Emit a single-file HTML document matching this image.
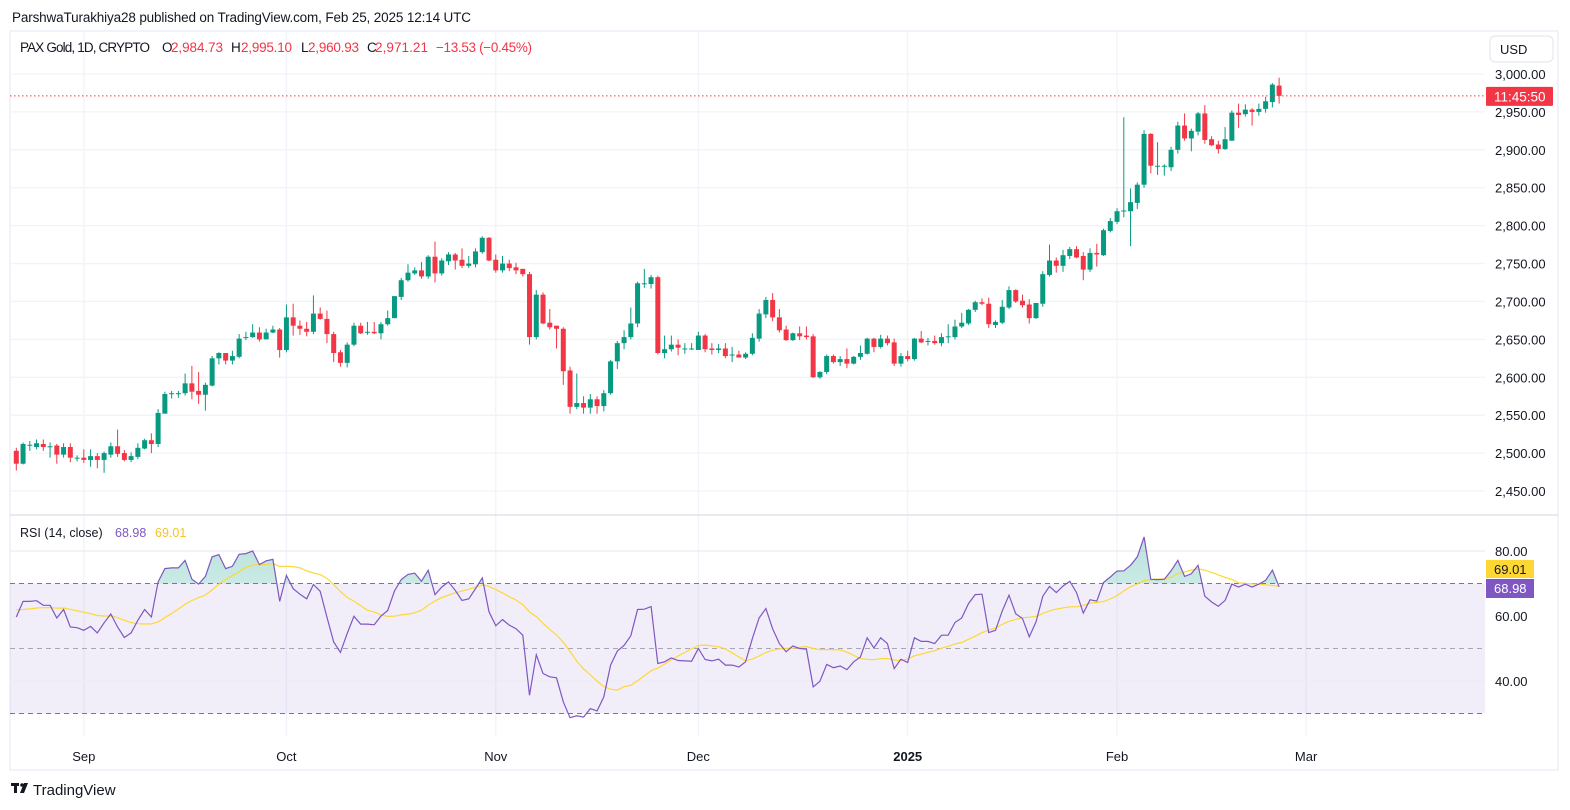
<!DOCTYPE html>
<html><head><meta charset="utf-8"><style>
html,body{margin:0;padding:0;background:#fff;}
svg{display:block;font-family:"Liberation Sans",Arial,sans-serif;}
</style></head><body>
<svg id="chart" width="1570" height="810" viewBox="0 0 1570 810" xmlns="http://www.w3.org/2000/svg">
<defs>
<linearGradient id="obg" x1="0" y1="0" x2="0" y2="1"><stop offset="0" stop-color="#089981" stop-opacity="0.28"/><stop offset="1" stop-color="#089981" stop-opacity="0.02"/></linearGradient>
<clipPath id="above70"><rect x="10" y="520" width="1475" height="63.5"/></clipPath>
</defs>
<text x="12" y="22" font-size="13.5" fill="#131722" textLength="459">ParshwaTurakhiya28 published on TradingView.com, Feb 25, 2025 12:14 UTC</text>
<rect x="10" y="31" width="1548" height="739" fill="none" stroke="#f0f3fa" stroke-width="2"/>
<g id="grid"></g>
<line x1="10" y1="515" x2="1558" y2="515" stroke="#e0e3eb" stroke-width="1.5"/>
<g id="rsiBand"></g>
<g id="candles"></g>
<g id="rsiG"></g>
<g id="axes"></g>
<g font-size="13.5">
<text x="20" y="52" fill="#131722" textLength="130">PAX Gold, 1D, CRYPTO</text>
<text x="162" y="52" fill="#131722">O</text><text x="171" y="52" fill="#f23645" textLength="52">2,984.73</text>
<text x="231" y="52" fill="#131722">H</text><text x="241" y="52" fill="#f23645" textLength="51">2,995.10</text>
<text x="301" y="52" fill="#131722">L</text><text x="308" y="52" fill="#f23645" textLength="51">2,960.93</text>
<text x="367" y="52" fill="#131722">C</text><text x="375" y="52" fill="#f23645" textLength="53">2,971.21</text>
<text x="436" y="52" fill="#f23645" textLength="96">−13.53 (−0.45%)</text>
</g>
<g font-size="12.5">
<text x="20" y="537" fill="#131722">RSI (14, close)</text>
<text x="115" y="537" fill="#7e57c2">68.98</text>
<text x="155" y="537" fill="#f7c325">69.01</text>
</g>
<rect x="1490" y="36" width="63" height="26" rx="5" fill="#fff" stroke="#e0e3eb"/>
<text x="1500" y="54" font-size="13" fill="#131722">USD</text>
<g>
<rect x="11" y="783" width="8" height="3" fill="#131722"/><rect x="14" y="783" width="3" height="10" fill="#131722"/>
<circle cx="22" cy="785" r="1.8" fill="#131722"/><path d="M24 783 L28 783 L24 793 L20 793 Z" fill="#131722"/>
<text x="33" y="795" font-size="15" fill="#131722">TradingView</text>
</g>
</svg>
<script>
const opens=[2503,2486,2511,2508,2512,2509,2510,2498,2508,2494,2494,2491,2496,2491,2498,2509,2500,2491,2495,2506,2517,2512,2552,2579,2579,2579,2592,2582,2577,2589,2625,2632,2622,2627,2653,2653,2659,2650,2659,2663,2636,2679,2668,2664,2660,2684,2677,2657,2633,2619,2643,2668,2660,2660,2658,2670,2678,2706,2728,2737,2741,2733,2759,2737,2753,2762,2755,2747,2749,2765,2784,2755,2741,2750,2745,2743,2736,2653,2709,2672,2668,2664,2609,2561,2566,2560,2571,2562,2579,2621,2645,2653,2671,2724,2723,2732,2632,2637,2643,2638,2638,2636,2655,2638,2636,2638,2630,2630,2626,2631,2651,2683,2702,2679,2663,2649,2658,2655,2654,2600,2607,2628,2620,2624,2618,2627,2631,2651,2640,2651,2646,2618,2628,2624,2651,2648,2648,2645,2654,2653,2667,2671,2689,2699,2697,2669,2672,2692,2715,2701,2696,2678,2697,2735,2754,2747,2760,2769,2760,2742,2764,2761,2793,2805,2820,2819,2830,2854,2921,2879,2879,2877,2900,2932,2915,2924,2948,2914,2907,2901,2912,2949,2947,2953,2950,2954,2963,2984.73];
const closes=[2486,2512,2511,2513,2508,2509,2498,2508,2494,2494,2491,2496,2491,2500,2509,2499,2491,2496,2507,2517,2512,2553,2578,2579,2579,2592,2581,2577,2590,2625,2632,2622,2628,2651,2653,2659,2650,2659,2663,2636,2679,2668,2664,2660,2684,2677,2657,2632,2619,2643,2668,2658,2660,2658,2670,2678,2707,2728,2738,2741,2733,2759,2737,2754,2762,2754,2747,2750,2766,2784,2754,2741,2750,2744,2741,2736,2653,2709,2671,2666,2664,2608,2561,2566,2560,2571,2562,2579,2621,2645,2653,2671,2724,2724,2732,2632,2637,2643,2639,2638,2638,2655,2637,2636,2638,2628,2630,2626,2631,2652,2684,2702,2679,2662,2649,2658,2654,2653,2600,2607,2628,2620,2624,2618,2627,2632,2651,2640,2651,2645,2618,2628,2624,2651,2646,2648,2645,2653,2654,2667,2672,2689,2699,2697,2670,2673,2693,2715,2700,2695,2678,2698,2736,2754,2747,2761,2769,2758,2742,2764,2762,2794,2806,2819,2820,2831,2854,2921,2879,2879,2879,2900,2932,2915,2925,2948,2913,2906,2901,2914,2949,2946,2953,2950,2954,2964,2986,2971.21];
const highs=[2507,2514,2516,2518,2518,2514,2512,2513,2513,2497,2505,2505,2500,2502,2514,2531,2504,2501,2513,2519,2526,2558,2581,2582,2582,2605,2615,2607,2593,2628,2633,2632,2635,2657,2660,2670,2666,2664,2668,2665,2696,2697,2675,2673,2708,2692,2688,2660,2636,2646,2672,2672,2673,2673,2673,2688,2707,2731,2749,2745,2752,2761,2779,2757,2765,2764,2770,2760,2770,2786,2785,2762,2760,2755,2751,2743,2739,2715,2712,2690,2668,2666,2614,2605,2575,2578,2575,2583,2623,2648,2662,2692,2726,2743,2735,2734,2655,2655,2650,2645,2645,2660,2657,2645,2644,2645,2640,2635,2633,2658,2690,2706,2711,2690,2668,2659,2667,2667,2657,2608,2630,2630,2628,2638,2628,2642,2652,2652,2656,2655,2651,2632,2635,2652,2661,2652,2655,2658,2670,2676,2685,2690,2701,2704,2705,2675,2702,2720,2716,2709,2703,2698,2740,2775,2758,2768,2772,2773,2765,2770,2776,2796,2810,2823,2943,2849,2857,2926,2922,2910,2881,2904,2937,2948,2928,2950,2959,2918,2912,2930,2952,2961,2960,2955,2961,2970,2988,2995.1];
const lows=[2477,2485,2503,2505,2503,2494,2486,2494,2488,2489,2487,2482,2480,2474,2494,2495,2489,2488,2492,2505,2500,2508,2564,2572,2573,2576,2571,2565,2556,2588,2617,2617,2617,2625,2649,2652,2647,2655,2658,2626,2633,2655,2656,2654,2657,2676,2645,2620,2614,2613,2641,2657,2656,2657,2650,2668,2678,2702,2726,2735,2730,2730,2725,2734,2748,2742,2744,2744,2745,2763,2753,2738,2738,2740,2736,2733,2643,2650,2670,2663,2638,2590,2552,2558,2552,2552,2552,2555,2577,2611,2637,2650,2666,2718,2717,2630,2625,2634,2629,2631,2636,2636,2633,2630,2632,2625,2620,2627,2624,2629,2647,2678,2674,2659,2648,2648,2649,2650,2599,2598,2604,2618,2615,2612,2617,2623,2630,2633,2638,2642,2615,2614,2621,2622,2645,2642,2643,2641,2645,2650,2665,2669,2686,2695,2665,2665,2670,2690,2698,2692,2671,2677,2693,2733,2738,2739,2756,2757,2728,2739,2746,2760,2791,2802,2811,2773,2822,2850,2869,2867,2866,2872,2895,2912,2898,2919,2908,2905,2895,2900,2912,2929,2944,2932,2945,2949,2956,2960.93];
const rsi=[59.7,64.5,64.5,64.7,63.3,63.3,59.4,62,56.6,56.4,55.6,56.8,54.8,57.9,60.6,56.6,53.4,54.8,58.7,62,59.7,70.5,74.6,74.8,74.8,77.1,71.3,69.8,72.2,78.2,78.9,74.6,75.3,79,79.2,80,75.8,77,77.4,64.5,72.5,68.4,66.7,65.3,69.7,67.6,59.7,52,48.8,54.6,59.9,57.5,57.5,57.3,60,61.7,67.7,71.2,72.8,73.2,70.7,74.1,66.6,68.9,70.5,67.9,64.8,65.3,68.4,71.7,61.3,57,58.9,57.2,56.1,54.1,35.6,48.1,42.3,41.3,41,33.6,28.7,29.3,28.9,31.5,30.8,35.1,44.9,49.2,51,53.9,62,62.1,62.9,45.4,45.9,47.1,46.3,46.2,46.1,50,46.6,46.2,46.7,44.9,44.9,44.3,45.9,53.1,59.4,62.3,56.1,51.5,49,50.8,50,49.8,38.2,39.9,45.1,44.1,44.6,43.5,45.9,47.4,53.3,50.2,53.3,51.5,43.8,46.7,45.7,53.3,52.2,52.2,51.5,54.1,54.1,58,59.4,63.8,66.6,66.7,54.9,55.6,61.5,66.4,60.7,59.2,53.6,58.2,66.1,69.1,67.2,69.2,70.7,67.2,60.9,65,64.6,70.3,72,73.8,73.9,75.6,78.2,84.3,71.3,71.2,71.3,73.9,77.1,72.2,73,75.6,66.1,64.3,63,64.8,69.8,68.9,69.8,68.9,69.8,71,74.1,68.98];
const rsiPrior=[63,62,61,62,63,62,61,62,63,62,63,62,61];
const priceTicks=[3000,2950,2900,2850,2800,2750,2700,2650,2600,2550,2500,2450];
const rsiTicks=[80,60,40];
const rsiLevels=[70,50,30];
const monthLabels=["Sep","Oct","Nov","Dec","2025","Feb","Mar"];
const monthIndex=[10,40,71,101,132,163,191];

const NS="http://www.w3.org/2000/svg";
const X0=16.3, DX=6.753;
function xOf(i){return X0+DX*i;}
function yP(p){return 74+(3000-p)*0.7582;}
function yR(v){return 551+(80-v)*3.25;}
function mk(tag,attrs,parent){const e=document.createElementNS(NS,tag);for(const k in attrs)e.setAttribute(k,attrs[k]);parent.appendChild(e);return e;}
const grid=document.getElementById('grid'),cg=document.getElementById('candles'),rg=document.getElementById('rsiG'),ax=document.getElementById('axes'),band=document.getElementById('rsiBand');

priceTicks.forEach(p=>{
  const l=mk('line',{x1:10,x2:1485,y1:yP(p),y2:yP(p),stroke:'#f0f3fa','stroke-width':1.3},grid);
  
  
  const t=mk('text',{x:1495,y:yP(p)+5,'font-size':13,fill:'#131722'},ax);
  t.textContent=p.toLocaleString('en-US',{minimumFractionDigits:2});
  
  
});
monthIndex.forEach((mi,k)=>{
  const x=xOf(mi);
  const l=mk('line',{x1:x,x2:x,y1:32,y2:736,stroke:'#f0f3fa','stroke-width':1.3},grid);
  
  
  const t=mk('text',{x:x,y:761,'font-size':13,fill:'#131722','text-anchor':'middle','font-weight':monthLabels[k]==='2025'?'bold':'normal'},ax);
  t.textContent=monthLabels[k];
  
  
});
const br=mk('rect',{x:10,y:yR(70),width:1475,height:yR(30)-yR(70),fill:'#7e57c2','fill-opacity':0.1},band);


rsiTicks.forEach(v=>{
  const l=mk('line',{x1:10,x2:1485,y1:yR(v),y2:yR(v),stroke:'#eceaf2','stroke-width':1.2},band);
  
  
  const t=mk('text',{x:1495,y:yR(v)+5,'font-size':13,fill:'#131722'},ax);
  t.textContent=v.toFixed(2);
  
  
});
rsiLevels.forEach(v=>{
  const l=mk('line',{x1:10,x2:1485,y1:yR(v),y2:yR(v),stroke:v===50?'#a8a6b0':'#787b86','stroke-width':1,'stroke-dasharray':'5,4'},band);
  
  
});
for(let i=0;i<closes.length;i++){
  const up=closes[i]>=opens[i];const col=up?'#089981':'#f23645';const x=xOf(i);
  const w=mk('line',{x1:x,x2:x,y1:yP(highs[i]),y2:yP(lows[i]),stroke:col,'stroke-width':1},cg);
  
  
  const top=yP(Math.max(opens[i],closes[i])),bot=yP(Math.min(opens[i],closes[i]));
  const b=mk('rect',{x:x-2.5,y:top,width:5,height:Math.max(1,bot-top),fill:col},cg);
  
  
}
const lc=closes[closes.length-1];
const pl=mk('line',{x1:10,x2:1485,y1:yP(lc),y2:yP(lc),stroke:'#f23645','stroke-width':1,'stroke-dasharray':'1.5,2.5'},cg);


const pb=mk('rect',{x:1486,y:yP(lc)-9,width:67,height:19,fill:'#f23645',rx:1},ax);


const pt=mk('text',{x:1494,y:yP(lc)+5.5,'font-size':13.5,fill:'#fff'},ax);pt.textContent='11:45:50';


let d='';rsi.forEach((v,i)=>{d+=(i?'L':'M')+xOf(i).toFixed(1)+' '+yR(v).toFixed(1);});
const fd=d+'L'+xOf(rsi.length-1).toFixed(1)+' '+yR(70)+'L'+xOf(0).toFixed(1)+' '+yR(70)+'Z';
const ob=mk('path',{d:fd,fill:'url(#obg)','clip-path':'url(#above70)'},rg);


const all=rsiPrior.concat(rsi);const ma=[];
for(let i=0;i<rsi.length;i++){let s=0;for(let k=0;k<14;k++)s+=all[i+rsiPrior.length-k];ma.push(s/14);}
let dm='';ma.forEach((v,i)=>{dm+=(i?'L':'M')+xOf(i).toFixed(1)+' '+yR(v).toFixed(1);});
const mp=mk('path',{d:dm,fill:'none',stroke:'#fdd835','stroke-width':1.2},rg);


const rp=mk('path',{d:d,fill:'none',stroke:'#7e57c2','stroke-width':1.2},rg);


const lastR=rsi[rsi.length-1];
const yb=mk('rect',{x:1486,y:560,width:48,height:18,fill:'#fdd835'},ax);


const yt=mk('text',{x:1494,y:574,'font-size':13,fill:'#131722'},ax);yt.textContent='69.01';


const pbx=mk('rect',{x:1486,y:579,width:48,height:19,fill:'#7e57c2'},ax);


const ptx=mk('text',{x:1494,y:593,'font-size':13,fill:'#fff'},ax);ptx.textContent=lastR.toFixed(2);


</script>
</body></html>
